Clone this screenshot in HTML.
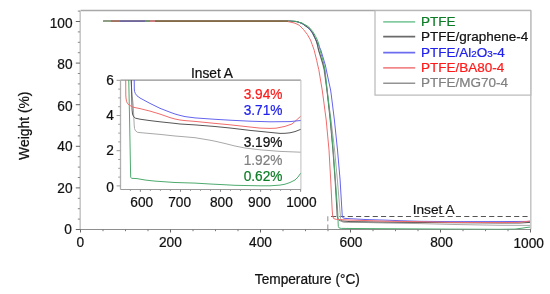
<!DOCTYPE html>
<html><head><meta charset="utf-8"><title>TGA curves</title><style>html,body{margin:0;padding:0;background:#fff;width:550px;height:294px;overflow:hidden}svg{display:block}</style></head><body>
<svg width="550" height="294" viewBox="0 0 550 294" font-family='"Liberation Sans", Arial, sans-serif'>
<rect width="550" height="294" fill="#fff"/>
<defs><clipPath id="ic"><rect x="120.4" y="80" width="180.6" height="109.6"/></clipPath><clipPath id="mc"><rect x="80.5" y="10.5" width="450" height="219"/></clipPath></defs>
<line x1="80.5" y1="10.5" x2="531" y2="10.5" stroke="#a8a8a8" stroke-width="1.3"/>
<line x1="530.8" y1="10.5" x2="530.8" y2="229.5" stroke="#c4c4c4" stroke-width="1.5"/>
<line x1="80.2" y1="10.5" x2="80.2" y2="230.0" stroke="#c8c8c8" stroke-width="1.6"/>
<line x1="79.5" y1="229.5" x2="531" y2="229.5" stroke="#8e8e8e" stroke-width="1"/>
<line x1="75.8" y1="229.5" x2="80" y2="229.5" stroke="#666" stroke-width="1"/>
<line x1="77.8" y1="219.1" x2="80" y2="219.1" stroke="#8a8a8a" stroke-width="1"/>
<line x1="77.8" y1="208.7" x2="80" y2="208.7" stroke="#8a8a8a" stroke-width="1"/>
<line x1="77.8" y1="198.3" x2="80" y2="198.3" stroke="#8a8a8a" stroke-width="1"/>
<line x1="75.8" y1="187.9" x2="80" y2="187.9" stroke="#666" stroke-width="1"/>
<line x1="77.8" y1="177.5" x2="80" y2="177.5" stroke="#8a8a8a" stroke-width="1"/>
<line x1="77.8" y1="167.1" x2="80" y2="167.1" stroke="#8a8a8a" stroke-width="1"/>
<line x1="77.8" y1="156.7" x2="80" y2="156.7" stroke="#8a8a8a" stroke-width="1"/>
<line x1="75.8" y1="146.3" x2="80" y2="146.3" stroke="#666" stroke-width="1"/>
<line x1="77.8" y1="135.9" x2="80" y2="135.9" stroke="#8a8a8a" stroke-width="1"/>
<line x1="77.8" y1="125.5" x2="80" y2="125.5" stroke="#8a8a8a" stroke-width="1"/>
<line x1="77.8" y1="115.1" x2="80" y2="115.1" stroke="#8a8a8a" stroke-width="1"/>
<line x1="75.8" y1="104.7" x2="80" y2="104.7" stroke="#666" stroke-width="1"/>
<line x1="77.8" y1="94.3" x2="80" y2="94.3" stroke="#8a8a8a" stroke-width="1"/>
<line x1="77.8" y1="83.9" x2="80" y2="83.9" stroke="#8a8a8a" stroke-width="1"/>
<line x1="77.8" y1="73.5" x2="80" y2="73.5" stroke="#8a8a8a" stroke-width="1"/>
<line x1="75.8" y1="63.1" x2="80" y2="63.1" stroke="#666" stroke-width="1"/>
<line x1="77.8" y1="52.7" x2="80" y2="52.7" stroke="#8a8a8a" stroke-width="1"/>
<line x1="77.8" y1="42.3" x2="80" y2="42.3" stroke="#8a8a8a" stroke-width="1"/>
<line x1="77.8" y1="31.9" x2="80" y2="31.9" stroke="#8a8a8a" stroke-width="1"/>
<line x1="75.8" y1="21.5" x2="80" y2="21.5" stroke="#666" stroke-width="1"/>
<line x1="77.8" y1="11.1" x2="80" y2="11.1" stroke="#8a8a8a" stroke-width="1"/>
<line x1="80.5" y1="229.5" x2="80.5" y2="232.5" stroke="#666" stroke-width="1"/>
<line x1="103.0" y1="229.5" x2="103.0" y2="231.2" stroke="#777" stroke-width="1"/>
<line x1="125.5" y1="229.5" x2="125.5" y2="231.2" stroke="#777" stroke-width="1"/>
<line x1="148.0" y1="229.5" x2="148.0" y2="231.2" stroke="#777" stroke-width="1"/>
<line x1="170.5" y1="229.5" x2="170.5" y2="232.5" stroke="#666" stroke-width="1"/>
<line x1="193.0" y1="229.5" x2="193.0" y2="231.2" stroke="#777" stroke-width="1"/>
<line x1="215.5" y1="229.5" x2="215.5" y2="231.2" stroke="#777" stroke-width="1"/>
<line x1="238.0" y1="229.5" x2="238.0" y2="231.2" stroke="#777" stroke-width="1"/>
<line x1="260.5" y1="229.5" x2="260.5" y2="232.5" stroke="#666" stroke-width="1"/>
<line x1="283.0" y1="229.5" x2="283.0" y2="231.2" stroke="#777" stroke-width="1"/>
<line x1="305.5" y1="229.5" x2="305.5" y2="231.2" stroke="#777" stroke-width="1"/>
<line x1="328.0" y1="229.5" x2="328.0" y2="231.2" stroke="#777" stroke-width="1"/>
<line x1="350.5" y1="229.5" x2="350.5" y2="232.5" stroke="#666" stroke-width="1"/>
<line x1="373.0" y1="229.5" x2="373.0" y2="231.2" stroke="#777" stroke-width="1"/>
<line x1="395.5" y1="229.5" x2="395.5" y2="231.2" stroke="#777" stroke-width="1"/>
<line x1="418.0" y1="229.5" x2="418.0" y2="231.2" stroke="#777" stroke-width="1"/>
<line x1="440.5" y1="229.5" x2="440.5" y2="232.5" stroke="#666" stroke-width="1"/>
<line x1="463.0" y1="229.5" x2="463.0" y2="231.2" stroke="#777" stroke-width="1"/>
<line x1="485.5" y1="229.5" x2="485.5" y2="231.2" stroke="#777" stroke-width="1"/>
<line x1="508.0" y1="229.5" x2="508.0" y2="231.2" stroke="#777" stroke-width="1"/>
<line x1="530.5" y1="229.5" x2="530.5" y2="232.5" stroke="#666" stroke-width="1"/>
<text transform="translate(71.9,233.85) scale(1,1.07)" font-size="13.7" text-anchor="end" fill="#111" stroke="#111" stroke-width="0.22">0</text>
<text transform="translate(72.5,193.4) scale(1,1.07)" font-size="13.7" text-anchor="end" fill="#111" stroke="#111" stroke-width="0.22">20</text>
<text transform="translate(72.5,151.35) scale(1,1.07)" font-size="13.7" text-anchor="end" fill="#111" stroke="#111" stroke-width="0.22">40</text>
<text transform="translate(72.5,111.0) scale(1,1.07)" font-size="13.7" text-anchor="end" fill="#111" stroke="#111" stroke-width="0.22">60</text>
<text transform="translate(72.5,69.3) scale(1,1.07)" font-size="13.7" text-anchor="end" fill="#111" stroke="#111" stroke-width="0.22">80</text>
<text transform="translate(72.5,27.5) scale(1,1.07)" font-size="13.7" text-anchor="end" fill="#111" stroke="#111" stroke-width="0.22">100</text>
<text transform="translate(80.35,246.85) scale(1,1.07)" font-size="13.7" text-anchor="middle" fill="#111" stroke="#111" stroke-width="0.22">0</text>
<text transform="translate(170.35,246.75) scale(1,1.07)" font-size="13.7" text-anchor="middle" fill="#111" stroke="#111" stroke-width="0.22">200</text>
<text transform="translate(260.45,247.2) scale(1,1.07)" font-size="13.7" text-anchor="middle" fill="#111" stroke="#111" stroke-width="0.22">400</text>
<text transform="translate(351.0,247.2) scale(1,1.07)" font-size="13.7" text-anchor="middle" fill="#111" stroke="#111" stroke-width="0.22">600</text>
<text transform="translate(441.55,247.35) scale(1,1.07)" font-size="13.7" text-anchor="middle" fill="#111" stroke="#111" stroke-width="0.22">800</text>
<text transform="translate(528.7,248.25) scale(1,1.07)" font-size="13.7" text-anchor="middle" fill="#111" stroke="#111" stroke-width="0.22">1000</text>
<text transform="translate(254.8,284.1) scale(1,1.07)" font-size="13.7" fill="#111" stroke="#111" stroke-width="0.22">Temperature (°C)</text>
<text transform="translate(28.8,125.7) rotate(-90) scale(1,1.07)" font-size="13.9" text-anchor="middle" fill="#111" stroke="#111" stroke-width="0.22">Weight (%)</text>
<line x1="331.1" y1="216.5" x2="530.5" y2="216.5" stroke="#555" stroke-width="1.1" stroke-dasharray="5.1 3.22"/>
<line x1="327.8" y1="216.2" x2="327.8" y2="230.2" stroke="#999" stroke-width="1.1" stroke-dasharray="5.1 3.1"/>
<text x="412.7" y="214.1" font-size="13.7" fill="#111" stroke="#111" stroke-width="0.22">Inset A</text>
<g clip-path="url(#mc)" fill="none" stroke-width="1" stroke-linejoin="round">
<polyline points="103.4,21.1 200.0,21.1 285.0,21.1 290.0,21.1 297.0,21.6 302.0,23.4 305.6,26.0 309.5,29.0 312.4,33.0 314.6,37.5 316.2,41.0 317.4,45.0 318.4,50.0 321.4,60.0 322.8,65.0 324.0,70.0 326.8,90.0 327.6,95.0 331.0,120.0 334.6,150.0 337.4,180.0 339.9,210.0 340.6,218.5 341.8,221.6 344.0,222.4 365.0,222.5 385.0,223.0 420.0,223.6 450.0,224.4 500.0,225.3 530.0,225.4" stroke="#a8a8a8"/>
<polyline points="103.4,21.1 200.0,21.1 285.0,21.1 290.0,21.1 297.0,21.7 302.0,23.5 306.0,26.2 309.8,29.4 312.6,33.2 314.6,37.2 315.9,40.0 318.5,45.0 320.8,50.0 323.8,60.0 325.3,65.0 327.8,77.0 330.6,90.0 331.3,95.0 334.4,120.0 337.5,150.0 340.1,180.0 341.9,210.0 342.3,216.5 343.2,218.0 345.0,218.4 365.0,219.5 385.0,220.1 400.0,220.7 420.0,221.3 450.0,221.6 500.0,221.6 530.0,221.4" stroke="#6464ee"/>
<polyline points="103.4,21.1 200.0,21.1 285.0,21.1 290.0,21.1 297.0,21.6 302.0,23.3 305.4,25.8 309.5,28.6 312.4,32.5 314.6,37.0 316.0,40.0 317.5,45.0 318.6,50.0 321.8,60.0 323.3,65.0 324.5,70.0 327.0,90.0 327.5,95.0 330.2,120.0 332.9,150.0 335.1,180.0 336.9,210.0 337.2,216.0 338.2,219.5 340.5,220.8 350.0,221.6 400.0,222.3 450.0,222.7 500.0,223.0 520.0,223.0 530.0,222.4" stroke="#555555"/>
<polyline points="103.4,21.1 200.0,21.1 285.0,21.1 290.0,21.1 295.2,21.2 302.3,23.2 308.5,26.7 312.6,31.3 315.6,36.4 317.4,40.0 319.0,45.0 320.0,50.0 322.8,60.0 324.0,65.0 325.0,70.0 327.2,90.0 327.8,95.0 330.5,120.0 333.2,150.0 335.4,180.0 337.6,210.0 338.1,222.0 338.3,226.4 339.2,228.0 341.3,228.4 365.0,228.6 400.0,228.8 450.0,229.1 500.0,229.3 515.0,229.1 522.0,228.2 527.0,227.4 530.0,227.1" stroke="#4daa6e"/>
<polyline points="103.4,21.1 200.0,21.1 285.0,21.1 290.0,22.0 295.0,23.2 299.2,25.2 303.3,29.3 307.3,34.4 310.5,40.0 312.2,44.6 314.2,50.2 316.7,60.4 317.7,65.0 318.8,69.6 322.2,90.0 322.9,95.0 326.2,120.0 329.0,150.0 330.7,180.0 332.2,210.0 332.7,216.0 333.6,218.5 336.2,219.4 350.0,220.1 365.0,220.5 385.0,221.2 420.0,221.7 450.0,222.4 500.0,222.6 518.0,222.4 524.0,221.8 530.0,221.0" stroke="#f06c6c"/>
<line x1="103.4" y1="21.1" x2="111" y2="21.1" stroke="#7fae8a" stroke-width="1.2"/>
<line x1="111" y1="21.1" x2="120" y2="21.1" stroke="#a0705a" stroke-width="1.2"/>
<line x1="120" y1="21.1" x2="145" y2="21.1" stroke="#5a62b0" stroke-width="1.2"/>
<line x1="145" y1="21.1" x2="150" y2="21.1" stroke="#5aa070" stroke-width="1.2"/>
<line x1="150" y1="21.1" x2="155" y2="21.1" stroke="#d87a80" stroke-width="1.2"/>
<line x1="155" y1="21.1" x2="288" y2="21.1" stroke="#766838" stroke-width="1.2"/>
</g>
<rect x="120.5" y="80.1" width="180.39999999999998" height="109.4" fill="#fff"/>
<line x1="120.5" y1="80.1" x2="300.9" y2="80.1" stroke="#909090" stroke-width="1.3"/>
<line x1="300.9" y1="80.1" x2="300.9" y2="189.5" stroke="#c4c4c4" stroke-width="1.1"/>
<line x1="120.5" y1="80.1" x2="120.5" y2="189.5" stroke="#b0b0b0" stroke-width="1.3"/>
<line x1="120.5" y1="189.5" x2="300.9" y2="189.5" stroke="#999" stroke-width="1.2"/>
<line x1="116.6" y1="185.9" x2="120.5" y2="185.9" stroke="#999" stroke-width="1"/>
<line x1="118.2" y1="177.1" x2="120.5" y2="177.1" stroke="#a0a0a0" stroke-width="1"/>
<line x1="118.2" y1="168.3" x2="120.5" y2="168.3" stroke="#a0a0a0" stroke-width="1"/>
<line x1="118.2" y1="159.5" x2="120.5" y2="159.5" stroke="#a0a0a0" stroke-width="1"/>
<line x1="116.6" y1="150.7" x2="120.5" y2="150.7" stroke="#999" stroke-width="1"/>
<line x1="118.2" y1="141.9" x2="120.5" y2="141.9" stroke="#a0a0a0" stroke-width="1"/>
<line x1="118.2" y1="133.1" x2="120.5" y2="133.1" stroke="#a0a0a0" stroke-width="1"/>
<line x1="118.2" y1="124.3" x2="120.5" y2="124.3" stroke="#a0a0a0" stroke-width="1"/>
<line x1="116.6" y1="115.5" x2="120.5" y2="115.5" stroke="#999" stroke-width="1"/>
<line x1="118.2" y1="106.7" x2="120.5" y2="106.7" stroke="#a0a0a0" stroke-width="1"/>
<line x1="118.2" y1="97.9" x2="120.5" y2="97.9" stroke="#a0a0a0" stroke-width="1"/>
<line x1="118.2" y1="89.1" x2="120.5" y2="89.1" stroke="#a0a0a0" stroke-width="1"/>
<line x1="116.6" y1="80.3" x2="120.5" y2="80.3" stroke="#999" stroke-width="1"/>
<line x1="130.4" y1="189.5" x2="130.4" y2="190.9" stroke="#999" stroke-width="1"/>
<line x1="140.4" y1="189.5" x2="140.4" y2="191.8" stroke="#888" stroke-width="1"/>
<line x1="150.4" y1="189.5" x2="150.4" y2="190.9" stroke="#999" stroke-width="1"/>
<line x1="160.4" y1="189.5" x2="160.4" y2="190.9" stroke="#999" stroke-width="1"/>
<line x1="170.4" y1="189.5" x2="170.4" y2="190.9" stroke="#999" stroke-width="1"/>
<line x1="180.5" y1="189.5" x2="180.5" y2="191.8" stroke="#888" stroke-width="1"/>
<line x1="190.5" y1="189.5" x2="190.5" y2="190.9" stroke="#999" stroke-width="1"/>
<line x1="200.5" y1="189.5" x2="200.5" y2="190.9" stroke="#999" stroke-width="1"/>
<line x1="210.5" y1="189.5" x2="210.5" y2="190.9" stroke="#999" stroke-width="1"/>
<line x1="220.5" y1="189.5" x2="220.5" y2="191.8" stroke="#888" stroke-width="1"/>
<line x1="230.5" y1="189.5" x2="230.5" y2="190.9" stroke="#999" stroke-width="1"/>
<line x1="240.5" y1="189.5" x2="240.5" y2="190.9" stroke="#999" stroke-width="1"/>
<line x1="250.5" y1="189.5" x2="250.5" y2="190.9" stroke="#999" stroke-width="1"/>
<line x1="260.6" y1="189.5" x2="260.6" y2="191.8" stroke="#888" stroke-width="1"/>
<line x1="270.6" y1="189.5" x2="270.6" y2="190.9" stroke="#999" stroke-width="1"/>
<line x1="280.6" y1="189.5" x2="280.6" y2="190.9" stroke="#999" stroke-width="1"/>
<line x1="290.6" y1="189.5" x2="290.6" y2="190.9" stroke="#999" stroke-width="1"/>
<line x1="300.6" y1="189.5" x2="300.6" y2="191.8" stroke="#888" stroke-width="1"/>
<text transform="translate(113.9,191.7) scale(1,1.07)" font-size="13.7" text-anchor="end" fill="#111" stroke="#111" stroke-width="0.22">0</text>
<text transform="translate(113.9,155.1) scale(1,1.07)" font-size="13.7" text-anchor="end" fill="#111" stroke="#111" stroke-width="0.22">2</text>
<text transform="translate(113.9,119.75) scale(1,1.07)" font-size="13.7" text-anchor="end" fill="#111" stroke="#111" stroke-width="0.22">4</text>
<text transform="translate(113.9,84.6) scale(1,1.07)" font-size="13.7" text-anchor="end" fill="#111" stroke="#111" stroke-width="0.22">6</text>
<text transform="translate(141.75,206.7) scale(1,1.07)" font-size="13.7" text-anchor="middle" fill="#111" stroke="#111" stroke-width="0.22">600</text>
<text transform="translate(179.6,206.7) scale(1,1.07)" font-size="13.7" text-anchor="middle" fill="#111" stroke="#111" stroke-width="0.22">700</text>
<text transform="translate(221.35,206.7) scale(1,1.07)" font-size="13.7" text-anchor="middle" fill="#111" stroke="#111" stroke-width="0.22">800</text>
<text transform="translate(259.45,206.7) scale(1,1.07)" font-size="13.7" text-anchor="middle" fill="#111" stroke="#111" stroke-width="0.22">900</text>
<text transform="translate(301.35,206.7) scale(1,1.07)" font-size="13.7" text-anchor="middle" fill="#111" stroke="#111" stroke-width="0.22">1000</text>
<text transform="translate(190.9,77.8) scale(1,1.07)" font-size="13.8" fill="#111" stroke="#111" stroke-width="0.22">Inset A</text>
<g clip-path="url(#ic)" fill="none" stroke-width="1" stroke-linejoin="round">
<polyline points="130.8,78.0 131.8,92.0 133.2,105.0 134.2,125.0 134.5,128.5 135.5,130.8 137.5,132.3 140.0,132.6 150.0,133.5 160.0,134.4 175.0,136.0 180.0,136.4 195.0,137.7 210.0,140.2 215.0,141.2 225.0,143.5 235.0,146.0 245.0,148.0 260.0,149.8 280.0,151.4 300.6,152.2" stroke="#a8a8a8"/>
<polyline points="128.7,78.0 129.6,120.0 130.5,170.0 130.7,177.2 131.5,178.3 137.0,178.6 145.0,180.0 150.0,180.6 155.0,181.1 165.0,181.8 175.0,182.5 195.0,183.1 210.0,184.0 220.0,184.5 235.0,185.3 245.0,185.5 260.0,185.8 270.0,185.8 280.0,185.1 285.0,184.2 290.0,182.5 295.0,180.0 298.0,177.0 300.6,173.3" stroke="#4daa6e"/>
<polyline points="131.3,78.0 131.7,95.0 132.1,110.0 132.5,114.0 133.5,116.5 135.5,118.2 140.0,119.2 150.0,120.6 160.0,121.8 175.0,123.4 180.0,124.0 195.0,124.9 210.0,126.1 215.0,126.5 230.0,128.0 250.0,130.4 270.0,132.4 280.0,133.4 285.0,133.3 290.0,132.8 295.0,131.6 300.6,129.4" stroke="#555555"/>
<polyline points="125.7,78.0 125.8,95.0 126.1,99.0 126.7,101.8 127.7,103.7 129.2,105.0 132.3,106.9 135.0,107.6 140.0,108.6 150.0,111.1 160.0,114.1 170.0,117.6 175.0,119.0 180.0,120.0 185.0,120.6 195.0,121.4 205.0,122.4 215.0,123.4 230.0,124.8 250.0,127.0 260.0,128.1 270.0,128.4 276.0,128.2 285.0,126.4 292.0,124.0 296.0,120.5 300.6,116.3" stroke="#f06c6c"/>
<polyline points="134.2,78.0 134.3,89.0 134.6,91.5 135.4,93.6 137.0,95.8 140.0,98.0 150.0,103.4 160.0,108.3 170.0,112.2 175.0,114.0 180.0,115.4 185.0,116.6 195.0,117.9 205.0,118.6 215.0,119.3 230.0,120.2 250.0,121.2 270.0,121.8 290.0,121.6 300.6,120.5" stroke="#6464ee"/>
</g>
<text transform="translate(282.5,99.15) scale(1,1.07)" font-size="13.7" text-anchor="end" fill="#ff1a1a" stroke="#ff1a1a" stroke-width="0.22">3.94%</text>
<text transform="translate(282.5,114.95) scale(1,1.07)" font-size="13.7" text-anchor="end" fill="#2222ee" stroke="#2222ee" stroke-width="0.22">3.71%</text>
<text transform="translate(282.5,146.9) scale(1,1.07)" font-size="13.7" text-anchor="end" fill="#111111" stroke="#111111" stroke-width="0.22">3.19%</text>
<text transform="translate(282.5,165.1) scale(1,1.07)" font-size="13.7" text-anchor="end" fill="#808080" stroke="#808080" stroke-width="0.22">1.92%</text>
<text transform="translate(282.5,181.0) scale(1,1.07)" font-size="13.7" text-anchor="end" fill="#0c7c26" stroke="#0c7c26" stroke-width="0.22">0.62%</text>
<rect x="375" y="10.6" width="155.8" height="84.5" fill="#fff" stroke="#b8b8b8" stroke-width="1.2"/>
<line x1="383.2" y1="21.9" x2="415.2" y2="21.9" stroke="#86cca2" stroke-width="1.6"/>
<text x="421.0" y="26.0" font-size="13.5" fill="#0c7c26" stroke="#0c7c26" stroke-width="0.22">PTFE</text>
<line x1="383.2" y1="36.6" x2="415.2" y2="36.6" stroke="#6a6a6a" stroke-width="1.6"/>
<text x="421.0" y="41.4" font-size="13.5" fill="#111111" stroke="#111111" stroke-width="0.22">PTFE/graphene-4</text>
<line x1="383.2" y1="52.6" x2="415.2" y2="52.6" stroke="#6c6cf0" stroke-width="1.6"/>
<text x="421.0" y="56.9" font-size="13.5" fill="#2222ee" stroke="#2222ee" stroke-width="0.22">PTFE/Al<tspan font-size="9.8">2</tspan>O<tspan font-size="9.8">3</tspan>-4</text>
<line x1="383.2" y1="67.9" x2="415.2" y2="67.9" stroke="#f38888" stroke-width="1.6"/>
<text x="421.0" y="72.1" font-size="13.5" fill="#ff1a1a" stroke="#ff1a1a" stroke-width="0.22">PTFE/BA80-4</text>
<line x1="383.2" y1="83.3" x2="415.2" y2="83.3" stroke="#939393" stroke-width="1.6"/>
<text x="421.0" y="87.35" font-size="13.5" fill="#808080" stroke="#808080" stroke-width="0.22">PTFE/MG70-4</text>
</svg>
</body></html>
